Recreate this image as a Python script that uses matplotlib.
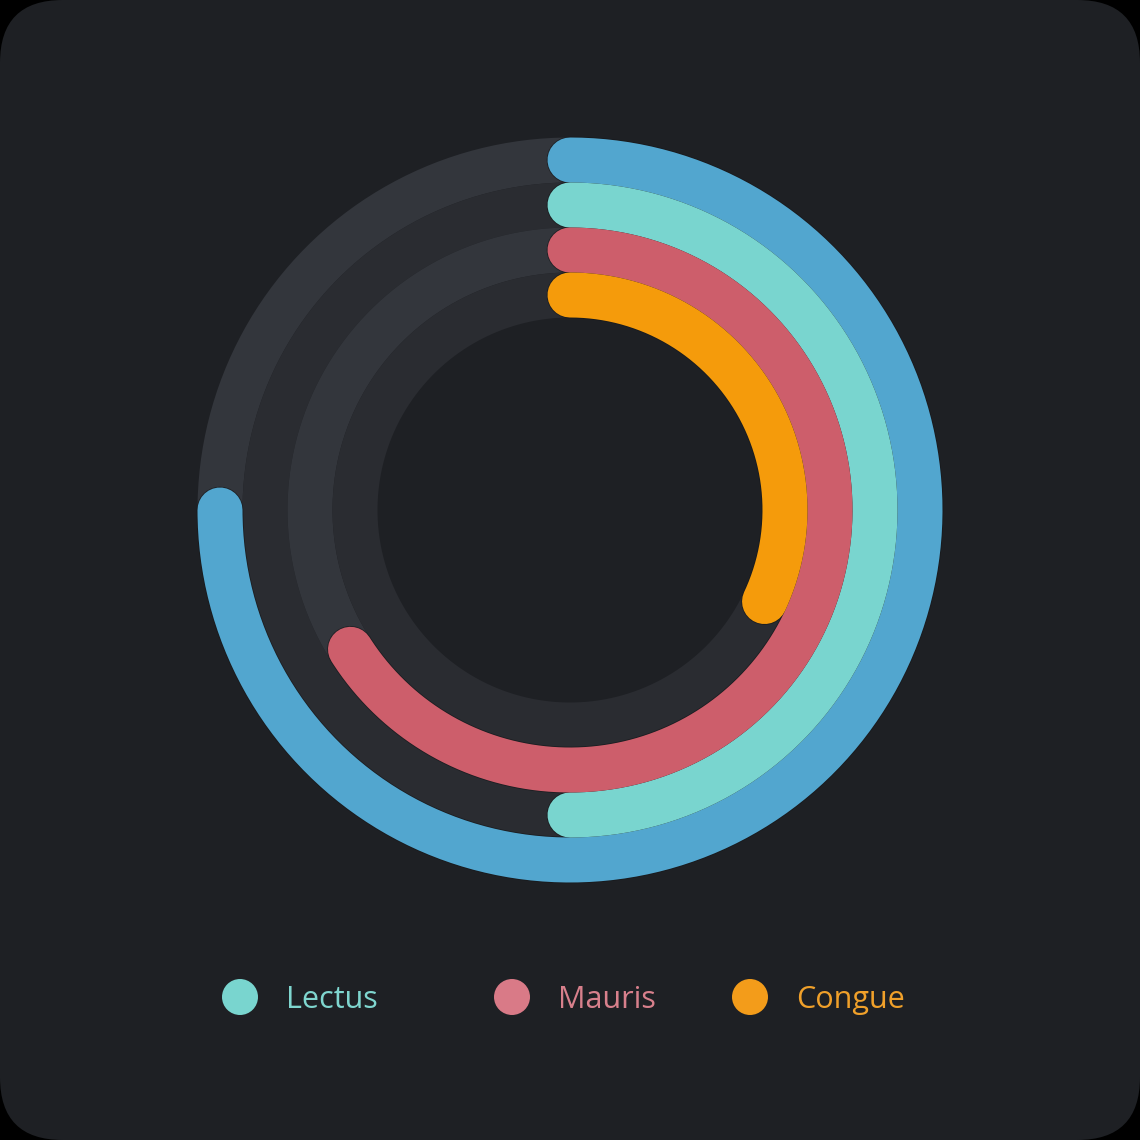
import matplotlib.pyplot as plt
import numpy as np
from matplotlib.patches import FancyBboxPatch, Circle

# data (percent of full circle, outer ring first)
series = ['Lorem', 'Lectus', 'Mauris', 'Congue']
values = [75, 50, 66, 32]
bar_colors = ['#52a6cf', '#79d5cf', '#cd5e6b', '#f59b0b']
legend_names = ['Lectus', 'Mauris', 'Congue']
legend_colors = ['#79d5cf', '#d97a87', '#f39c1a']
legend_text_colors = ['#7fd6cf', '#d8808c', '#f0a02a']

W = 1140
bg = '#1e2024'
radii = [350, 305, 260, 215]      # ring centre lines, px
ring_w = 45                        # px
track_colors = ['#33363c', '#2a2c31', '#33363c', '#2a2c31']

fig = plt.figure(figsize=(W / 100, W / 100), dpi=100)
fig.patch.set_facecolor('black')

# rounded card background
card = FancyBboxPatch((0.0, 0.0), 1.0, 1.0, boxstyle='round,pad=0,rounding_size=0.055',
                      transform=fig.transFigure, facecolor=bg, edgecolor='none', zorder=-10)
fig.patches.append(card)

# polar axes centred at (570, 510) px, 1 data unit = 1 px
cx, cy, half = 570, 510, 400
ax = fig.add_axes([(cx - half) / W, (W - cy - half) / W, 2 * half / W, 2 * half / W],
                  projection='polar')
ax.set_zorder(1)
ax.set_facecolor('none')
ax.set_theta_zero_location('N')
ax.set_theta_direction(-1)
ax.set_ylim(0, half)
ax.axis('off')

lw = ring_w * 72 / 100  # px -> points
full = np.linspace(0, 2 * np.pi, 400)
for r, tc in zip(radii, track_colors):
    ax.plot(full, np.full_like(full, r), color=tc, lw=lw, solid_capstyle='butt', zorder=1)

for r, v, c in zip(radii, values, bar_colors):
    th = np.linspace(0, v / 100 * 2 * np.pi, 300)
    # faint dark outline then the bar
    ax.plot(th, np.full_like(th, r), color='#15171a', lw=lw + 1.2, alpha=0.7,
            solid_capstyle='round', zorder=2)
    ax.plot(th, np.full_like(th, r), color=c, lw=lw, solid_capstyle='round', zorder=3)

# legend
leg_x = [240, 512, 750]
leg_y = 997
for x, name, mc, tc in zip(leg_x, legend_names, legend_colors, legend_text_colors):
    fig.patches.append(Circle((x / W, 1 - leg_y / W), 18 / W, transform=fig.transFigure,
                              facecolor=mc, edgecolor='none', zorder=5))
    fig.text((x + 46) / W, 1 - (leg_y + 3) / W, name, color=tc, fontsize=22,
             family=['Open Sans', 'DejaVu Sans'], va='center', ha='left')

fig.savefig('out.png', dpi=100, facecolor=fig.get_facecolor())
